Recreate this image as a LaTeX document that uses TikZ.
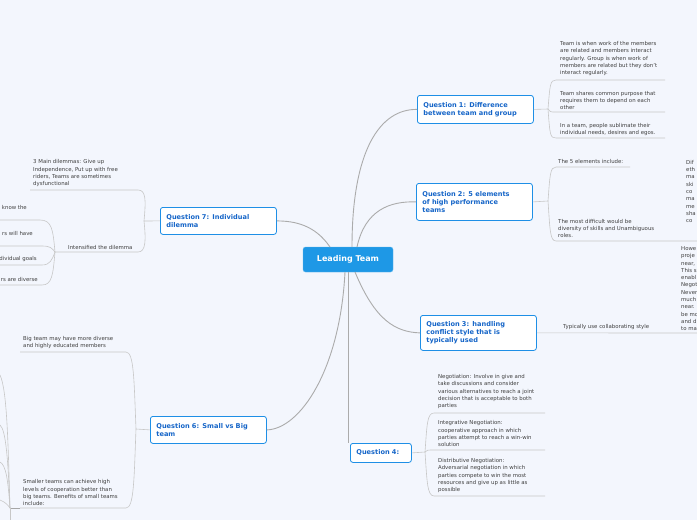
\documentclass[tikz,border=0pt]{standalone}
\usepackage{fontspec}
\setmainfont{DejaVu Sans}
\begin{document}
\begin{tikzpicture}[x=1pt,y=-1pt,
  conn/.style={draw=black!33,line width=0.9pt},
  uline/.style={draw=black!22,line width=0.6pt},
  qbox/.style={draw=qblue,fill=white,rounded corners=2.5pt,line width=0.8pt,text=qtext,
     font=\fontsize{6.6}{8}\selectfont\bfseries,align=left,inner xsep=6pt,anchor=north west},
  sm/.style={font=\fontsize{5.4}{7.3}\selectfont,text=black!75,align=left,inner sep=0pt,anchor=south west}]
\definecolor{qblue}{HTML}{1E8FE6}
\definecolor{qtext}{HTML}{1565C8}
\definecolor{cfill}{HTML}{1E98E6}
\definecolor{bg}{HTML}{F3F6FD}
\fill[bg] (0,0) rectangle (697,520);
\useasboundingbox (0,0) rectangle (697,520);
\clip (0,0) rectangle (697,520);
% central
\node[fill=cfill,draw=cfill!70!white,rounded corners=2.5pt,text=white,font=\fontsize{8}{10}\selectfont\bfseries,
  minimum width=90pt,minimum height=25pt] (c) at (348,259.5) {Leading Team};
% questions
\node[qbox,minimum width=116pt,minimum height=28pt,text width=104pt] (q1) at (417,95) {Question 1: Difference\\between team and group};
\node[qbox,minimum width=116pt,minimum height=37pt,text width=104pt] (q2) at (416,183) {Question 2: 5 elements\\of high performance\\teams};
\node[qbox,minimum width=116pt,minimum height=35pt,text width=104pt] (q3) at (420,315) {Question 3: handling\\conflict style that is\\typically used};
\node[qbox,minimum width=61pt,minimum height=19pt,text width=49pt] (q4) at (350,443) {Question 4:};
\node[qbox,minimum width=116pt,minimum height=27pt,text width=104pt] (q6) at (150,416) {Question 6: Small vs Big\\team};
\node[qbox,minimum width=116pt,minimum height=27pt,text width=104pt] (q7) at (160,207) {Question 7: Individual\\dilemma};
% central connectors
\draw[conn] (352,247) .. controls (352,150) and (380,109) .. (q1.west);
\draw[conn] (357,247) .. controls (365,210) and (390,201) .. (q2.west);
\draw[conn] (330,247) .. controls (315,225) and (295,221) .. (q7.east);
\draw[conn] (355,272) .. controls (375,320) and (395,332) .. (q3.west);
\draw[conn] (348,272) -- (q4.north -| 348,0);
\draw[conn] (345,272) .. controls (340,370) and (300,429) .. (q6.east);
% Q1 children
\node[sm] (t11) at (560,76) {Team is when work of the members\\are related and members interact\\regularly. Group is when work of\\members are related but they don't\\interact regularly.};
\node[sm] (t12) at (560,110) {Team shares common purpose that\\requires them to depend on each\\other};
\node[sm] (t13) at (560,136) {In a team, people sublimate their\\individual needs, desires and egos.};
\coordinate (b1) at (548,109);
\draw[uline] (q1.east) -- (b1);
\draw[uline] (b1) .. controls (550,85) and (550,80) .. (556,80) -- (665,80);
\draw[uline] (b1) .. controls (550,112) and (550,112) .. (556,112) -- (665,112);
\draw[uline] (b1) .. controls (550,135) and (550,138) .. (556,138) -- (665,138);
% Q2 children
\node[sm] (t21) at (558,164) {The 5 elements include:};
\node[sm] (t22) at (558,238) {The most difficult would be\\diversity of skills and Unambiguous\\roles.};
\node[sm] (t23) at (686,223) {Dif\\eth\\ma\\ski\\co\\ma\\me\\sha\\co};
\coordinate (b2) at (548,201);
\draw[uline] (q2.east) -- (b2);
\draw[uline] (b2) .. controls (550,175) and (550,167) .. (556,167) -- (630,167);
\draw[uline] (b2) .. controls (550,230) and (550,241) .. (556,241) -- (697,241);
% Q3 child
\node[sm] (t31) at (563,330) {Typically use collaborating style};
\node[sm] (t32) at (681,331) {Howe\\proje\\near,\\This s\\enabl\\Negot\\Never\\much\\near.\\be mo\\and d\\to ma};
\draw[uline] (q3.east) -- (697,333);
% Q4 children
\node[sm] (t41) at (438,409) {Negotiation: Involve in give and\\take discussions and consider\\various alternatives to reach a joint\\decision that is acceptable to both\\parties};
\node[sm] (t42) at (438,447) {Integrative Negotiation:\\cooperative approach in which\\parties attempt to reach a win-win\\solution};
\node[sm] (t43) at (438,493) {Distributive Negotiation:\\Adversarial negotiation in which\\parties compete to win the most\\resources and give up as little as\\possible};
\coordinate (b4) at (425,452);
\draw[uline] (q4.east) -- (b4);
\draw[uline] (b4) .. controls (427,425) and (427,413) .. (434,413) -- (545,413);
\draw[uline] (b4) .. controls (427,450) and (427,450) .. (434,450) -- (545,450);
\draw[uline] (b4) .. controls (427,480) and (427,496) .. (434,496) -- (545,496);
% Q6 children
\node[sm] (t61) at (23,349) {Big team may have more diverse\\and highly educated members};
\node[sm] (t62) at (23,506) {Smaller teams can achieve high\\levels of cooperation better than\\big teams. Benefits of small teams\\include:};
\coordinate (b6) at (136,429);
\draw[uline] (q6.west) -- (b6);
\draw[uline] (b6) .. controls (134,380) and (134,352) .. (126,352) -- (20,352);
\draw[uline] (b6) .. controls (134,480) and (134,508) .. (126,508) -- (20,508);
\draw[draw=black!35,line width=0.9pt] (20,508) -- (10,508);
\draw[uline] (10,508) .. controls (8,440) and (7,390) .. (0,375);
\draw[uline] (10,508) .. controls (8,460) and (6,430) .. (0,425);
\draw[uline] (10,508) .. controls (8,480) and (6,465) .. (0,462);
\draw[uline] (10,508) .. controls (8,505) and (5,502) .. (0,500);
\draw[uline] (10,508) -- (10,520);
% Q7 children
\node[sm] (t71) at (33,187) {3 Main dilemmas: Give up\\Independence, Put up with free\\riders, Teams are sometimes\\dysfunctional};
\node[sm] (t72) at (68,250) {Intensified the dilemma};
\node[sm,anchor=south east] (t73) at (27,210) {know the};
\node[sm,anchor=south east] (t74) at (33,236) {rs will have};
\node[sm,anchor=south east] (t75) at (37,262) {dividual goals};
\node[sm,anchor=south east] (t76) at (38,282) {rs are diverse};
\coordinate (b7) at (144,221);
\draw[uline] (q7.west) -- (b7);
\draw[uline] (b7) .. controls (146,200) and (146,190) .. (138,190) -- (30,190);
\draw[uline] (b7) .. controls (146,240) and (146,252) .. (138,252) -- (55,252);
\draw[uline] (55,252) .. controls (53,230) and (52,220) .. (40,220) -- (0,220);
\draw[uline] (55,252) .. controls (52,248) and (50,246) .. (42,246) -- (0,246);
\draw[uline] (55,252) .. controls (52,260) and (50,265) .. (42,265) -- (0,265);
\draw[uline] (55,252) .. controls (53,275) and (52,285) .. (42,285) -- (0,285);
\end{tikzpicture}
\end{document}
